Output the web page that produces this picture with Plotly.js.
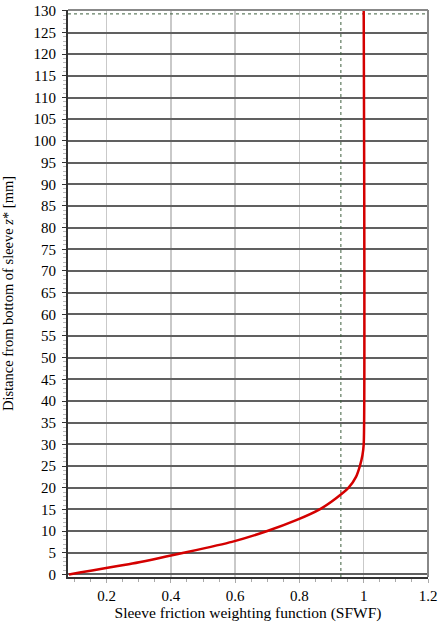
<!DOCTYPE html>
<html>
<head>
<meta charset="utf-8">
<script src="https://cdn.plot.ly/plotly-3.0.1.min.js"></script>
<style>
  html, body { margin: 0; padding: 0; background: #fff; }
  #chart { width: 444px; height: 623px; }
</style>
</head>
<body>
<div id="chart"></div>
<script>
// values
var sfwf = [0.083, 0.28, 0.44, 0.59, 0.70, 0.79, 0.863, 0.913, 0.953, 0.976, 0.988, 0.996, 1.0, 1.0];
var zStar = [0, 2.5, 5, 7.5, 10, 12.5, 15, 17.5, 20, 22.5, 25, 27.5, 30, 130];

// dashed reference lines
var refSfwf = 0.929;
var refZ = 129.3;
var xRange = [0.08, 1.2];
var yRange = [-0.6, 130.2];

var serif = 'Liberation Serif';

var curve = {
    x: sfwf,
    y: zStar,
    type: 'scatter',
    mode: 'lines',
    line: {color: '#d40000', width: 2.5, shape: 'spline', smoothing: 0.6},
    hoverinfo: 'skip'
};

var vRef = {
    x: [refSfwf, refSfwf],
    y: yRange,
    type: 'scatter',
    mode: 'lines',
    line: {color: '#3d5f3d', width: 1, dash: 'dot'},
    hoverinfo: 'skip'
};

var hRef = {
    x: xRange,
    y: [refZ, refZ],
    type: 'scatter',
    mode: 'lines',
    line: {color: '#3d5f3d', width: 1, dash: 'dot'},
    hoverinfo: 'skip'
};

var layout = {
    width: 444,
    height: 623,
    margin: {l: 68, r: 16, t: 10, b: 46},
    showlegend: false,
    paper_bgcolor: '#fff',
    plot_bgcolor: '#fff',
    font: {family: serif, size: 15, color: '#000'},
    xaxis: {
        range: xRange,
        dtick: 0.2,
        tick0: 0,
        showgrid: true,
        gridcolor: '#c9c9c9',
        gridwidth: 1.5,
        zeroline: false,
        showline: true,
        linecolor: '#333',
        linewidth: 2,
        ticks: 'outside',
        ticklen: 4,
        tickcolor: '#aaa',
        tickfont: {family: serif, size: 15, color: '#000'},
        minor: {dtick: 0.05, ticks: 'outside', ticklen: 3, tickcolor: '#aaa', showgrid: false},
        title: {text: 'Sleeve friction weighting function (SFWF)', standoff: 3,
                font: {family: serif, size: 15.5, color: '#000'}}
    },
    yaxis: {
        range: yRange,
        dtick: 5,
        tick0: 0,
        showgrid: true,
        gridcolor: '#606060',
        gridwidth: 2,
        zeroline: false,
        showline: true,
        linecolor: '#333',
        linewidth: 2,
        ticks: 'outside',
        ticklen: 4,
        tickcolor: '#333',
        ticklabelstandoff: 3,
        tickfont: {family: serif, size: 15, color: '#000'},
        minor: {dtick: 1, ticks: 'outside', ticklen: 3, tickcolor: '#bbb', showgrid: false},
        title: {text: 'Distance from bottom of sleeve <i>z</i>* [mm]', standoff: 16,
                font: {family: serif, size: 14.5, color: '#000'}}
    },
    shapes: [
        {type: 'line', xref: 'paper', yref: 'paper', x0: 0, x1: 1, y0: 1, y1: 1,
         line: {color: '#888', width: 2}},
        {type: 'line', xref: 'paper', yref: 'paper', x0: 1, x1: 1, y0: 0, y1: 1,
         line: {color: '#888', width: 2}}
    ]
};

Plotly.newPlot('chart', [vRef, hRef, curve], layout, {staticPlot: true, displayModeBar: false});
</script>
</body>
</html>
